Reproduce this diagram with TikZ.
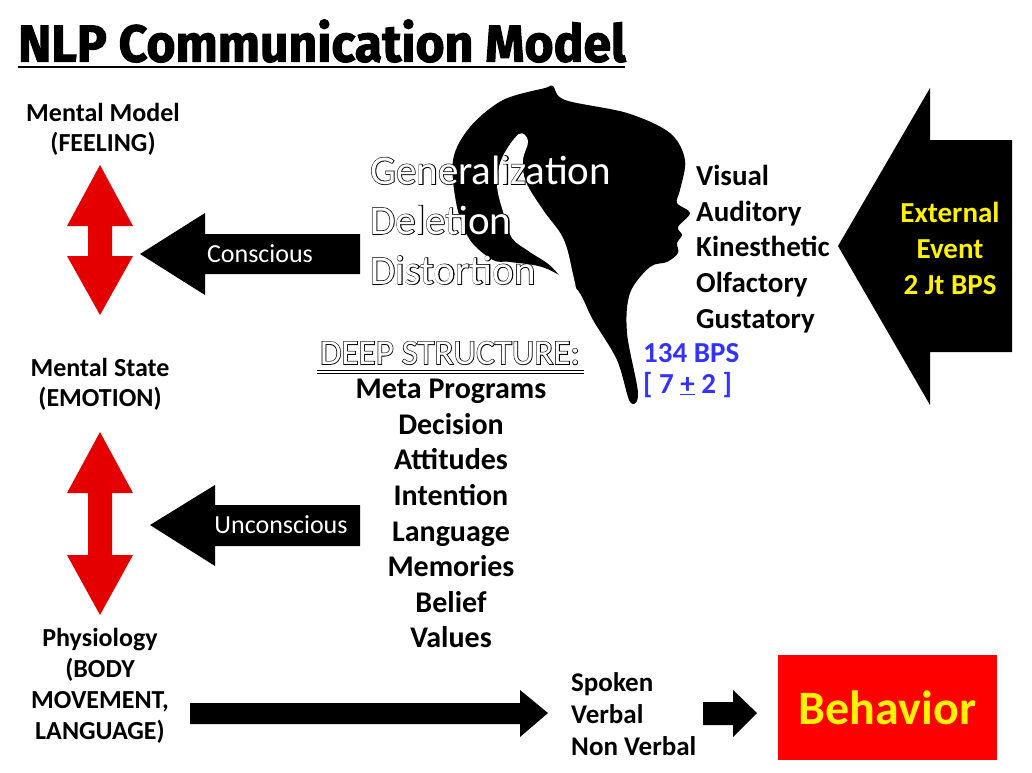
\documentclass[tikz,border=0pt]{standalone}
\usepackage{fontspec}
\setmainfont{Carlito}
\newfontfamily\titlefont{Fira Sans}[FakeBold=2]
\newcommand{\outlinetext}[1]{\special{pdf:literal 1 Tr 1.4 w}#1\special{pdf:literal 0 Tr 1 w}}
\begin{document}
\begin{tikzpicture}[x=1pt,y=-1pt,
  lbl/.style={font=\bfseries\fontsize{26}{30}\selectfont, align=center, inner sep=0},
  blk/.style={fill=black},
  red/.style={fill=red!90!black},
  outl/.style={font=\fontsize{41}{50}\selectfont, align=left, anchor=west, inner sep=0}]
\useasboundingbox (0,0) rectangle (1032,772);
% title
\node[anchor=west, inner sep=0, font=\titlefont\fontsize{52}{56}\selectfont\bfseries, xscale=0.96] (title) at (18,41) {NLP Communication Model};
\draw[line width=2.5] (18,67) -- (625,67);
% silhouette
\path[blk] plot[smooth cycle, tension=0.55] coordinates {(553,86) (565,100) (627,113) (670,133) (685,160) (680,190) (677,203) (690,213) (678,227) (682,235) (677,243) (678,253) (667,262) (650,267) (630,293) (627,333) (638,393) (630,402) (617,360) (593,320) (576,288) (545,268) (510,262) (493,260) (470,240) (457,207) (453,160) (470,127) (503,100) (545,88)};
\path[fill=white] plot[smooth cycle, tension=0.6] coordinates {(519,134) (502,158) (497,185) (504,215) (512,238) (530,252) (552,267) (575,294) (572,270) (563,238) (543,210) (526,182) (523,160) (528,141)};
% outlined texts
\node[outl] (gddo) at (370,220) {\outlinetext{Generalization\\Deletion\\Distortion}};
\node[outl, text=white] (gdd) at (370,220) {Generalization\\Deletion\\Distortion};
% red double arrows
\path[red] (100,165) -- (133,226) -- (112,226) -- (112,256) -- (133,256) -- (100,315) -- (67,256) -- (88,256) -- (88,226) -- (67,226) -- cycle;
\path[red] (100,432) -- (133,493) -- (112,493) -- (112,555) -- (133,555) -- (100,615) -- (67,555) -- (88,555) -- (88,493) -- (67,493) -- cycle;
% left arrows
\path[blk] (140,254) -- (205,213) -- (205,234) -- (360,234) -- (360,274) -- (205,274) -- (205,295) -- cycle;
\node[font=\fontsize{26}{30}\selectfont, text=white] (cons) at (260,254) {Conscious};
\path[blk] (150,525) -- (215,485) -- (215,505) -- (360,505) -- (360,546) -- (215,546) -- (215,566) -- cycle;
\node[font=\fontsize{26}{30}\selectfont, text=white] (uncons) at (281,525) {Unconscious};
% external event
\path[blk] (838,246) -- (930,88) -- (930,140) -- (1012,140) -- (1012,352) -- (930,352) -- (930,405) -- cycle;
\node[lbl, text=yellow, font=\bfseries\fontsize{29}{36}\selectfont] (ext) at (950,248) {External\\Event\\2 Jt BPS};
% senses
\node[lbl, align=left, anchor=north west, font=\bfseries\fontsize{29}{35.7}\selectfont] (senses) at (696,165) {Visual\\Auditory\\Kinesthetic\\Olfactory\\Gustatory};
\node[lbl, align=left, anchor=north west, text=blue!80!white, font=\bfseries\fontsize{29}{31}\selectfont] (bps) at (643,343) {134 BPS\\{[} 7 \underline{+} 2 ]};
% left labels
\node[lbl] (mm) at (103,129) {Mental Model\\(FEELING)};
\node[lbl] (ms) at (100,384) {Mental State\\(EMOTION)};
\node[lbl, font=\bfseries\fontsize{26}{31}\selectfont] (phys) at (100,686) {Physiology\\(BODY\\MOVEMENT,\\LANGUAGE)};
% deep structure
\node[font=\fontsize{35}{38}\selectfont, inner sep=0] (deepo) at (450,353) {\outlinetext{DEEP STRUCTURE:}};
\node[font=\fontsize{35}{38}\selectfont, inner sep=0, text=white] (deep) at (450,353) {DEEP STRUCTURE:};
\draw[line width=1] (317,370) -- (584,370);
\draw[line width=1] (317,373) -- (584,373);
\node[lbl, font=\bfseries\fontsize{30}{35.6}\selectfont, anchor=north] (list) at (451,379) {Meta Programs\\Decision\\Attitudes\\Intention\\Language\\Memories\\Belief\\Values};
% bottom
\path[blk] (190,703) -- (520,703) -- (520,690) -- (548,713) -- (520,737) -- (520,724) -- (190,724) -- cycle;
\node[lbl, align=left, anchor=west, font=\bfseries\fontsize{27}{32}\selectfont] (spoken) at (571,714) {Spoken\\Verbal\\Non Verbal};
\path[blk] (703,702) -- (733,702) -- (733,690) -- (757,713) -- (733,737) -- (733,725) -- (703,725) -- cycle;
\node[fill=red, minimum width=219, minimum height=105, text=yellow, font=\bfseries\fontsize{48}{52}\selectfont] (beh) at (887.5,707.5) {Behavior};
\end{tikzpicture}
\end{document}
